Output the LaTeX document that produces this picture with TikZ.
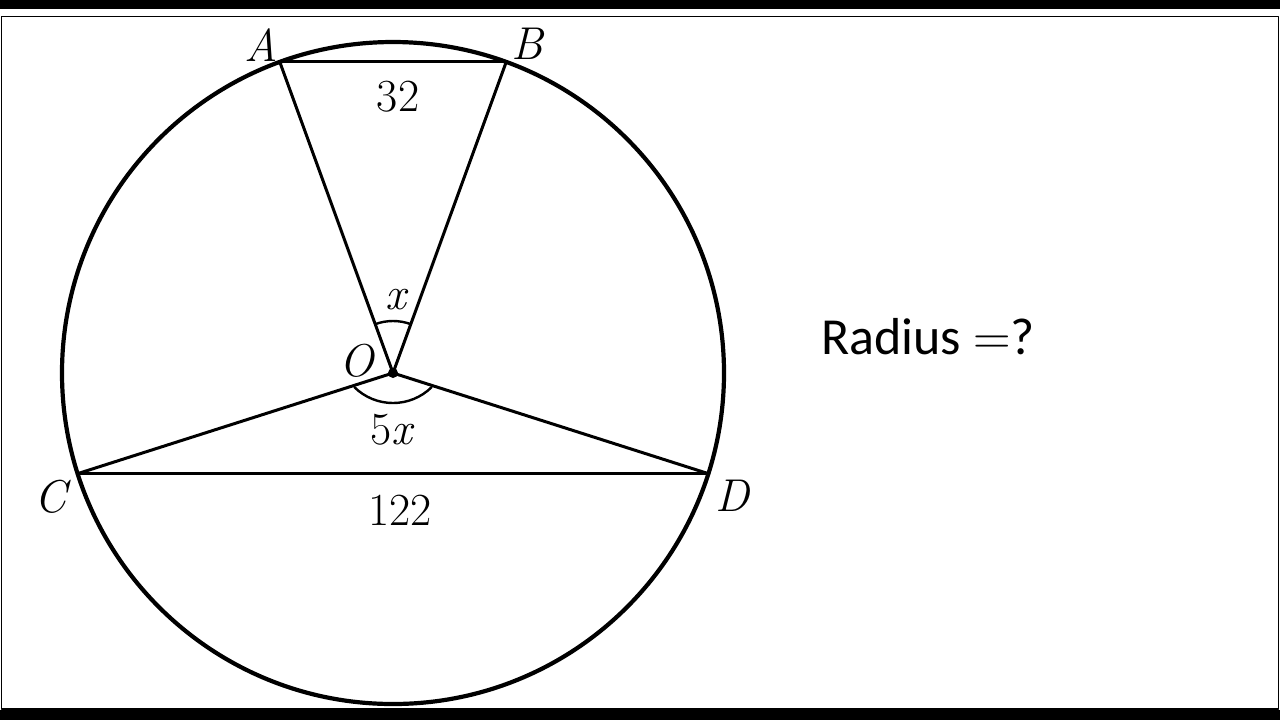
\documentclass[tikz,border=0pt]{standalone}
\usepackage{fontspec}
\newfontfamily\calib{Carlito}
\begin{document}
\begin{tikzpicture}[x=0.5pt,y=-0.5pt,line join=round,
  chord/.style={line width=1.5pt},
  rim/.style={line width=2.1pt},
  anglemark/.style={line width=1.2pt},
  lbl/.style={inner sep=0pt,font=\fontsize{23}{27}\selectfont}]
\useasboundingbox (0,0) rectangle (1280,720);
\fill[black] (0,0) rectangle (1280,9);
\fill[black] (0,710) rectangle (1280,720);
\draw[line width=0.8pt] (1.5,16.5) rectangle (1278.5,709);
\coordinate (O) at (393,373);
\coordinate (A) at ([shift={(O)}]110:165.5pt);
\coordinate (B) at ([shift={(O)}]70:165.5pt);
\coordinate (C) at ([shift={(O)}]197.7:165.5pt);
\coordinate (D) at ([shift={(O)}]-17.7:165.5pt);
\draw[rim] (O) circle[radius=165.5pt];
\draw[chord] (A) -- (B);
\draw[chord] (C) -- (D);
\draw[chord] (A) -- (O) -- (B);
\draw[chord] (C) -- (O) -- (D);
\draw[anglemark] ([shift={(O)}]70:26pt) arc[start angle=70,end angle=110,radius=26pt];
\coordinate (E) at (393,348);
\draw[anglemark] ([shift={(E)}]225:27.5pt) arc[start angle=225,end angle=315,radius=27.5pt];
\fill (O) circle[radius=2.5pt];
\node[lbl] (lA) at (261,45) {\textit{A}};
\node[lbl] (lB) at (528,44) {\textit{B}};
\node[lbl] (lC) at (53,497) {\textit{C}};
\node[lbl] (lD) at (733,496) {\textit{D}};
\node[lbl] (lO) at (357,361) {\textit{O}};
\node[lbl] (lx) at (397,300) {\textit{x}};
\node[lbl] (l5x) at (393,430) {5\textit{x}};
\node[lbl] (l32) at (398,97) {32};
\node[lbl] (l122) at (400,510) {122};
\node[inner sep=0pt,font=\calib\fontsize{26}{30}\selectfont] (q) at (928,337) {Radius {\rmfamily =}?};
\end{tikzpicture}
\end{document}
